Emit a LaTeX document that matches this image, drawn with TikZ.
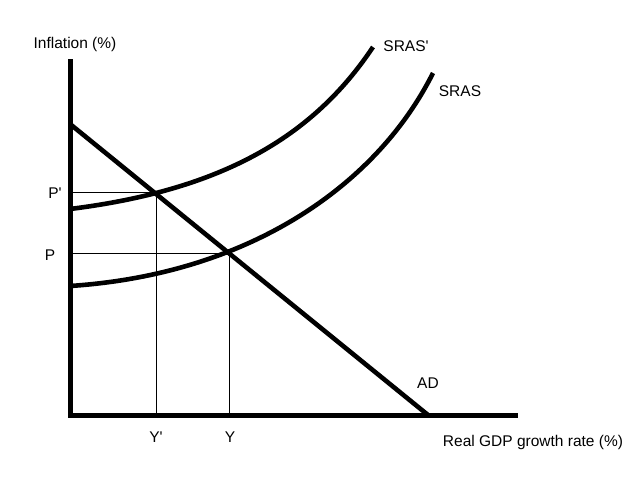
\documentclass[tikz,border=0pt]{standalone}
\usepackage{fontspec}
\setmainfont{Liberation Sans}
\usetikzlibrary{positioning}

\begin{document}
\begin{tikzpicture}[x=1pt, y=-1pt,
		lbl/.style={font=\fontsize{15.5}{18}\selectfont, inner sep=0pt},
		curve/.style={line width=4.6pt},
		guide/.style={line width=1pt}]

		% === figure bounds ===
		\useasboundingbox (0,0) rectangle (640,480);

		% === Equilibrium points ===
		\coordinate (Eprime) at (156,192);
		\coordinate (E)      at (229,253);
		\coordinate (pprime) at (70,192);
		\coordinate (p)      at (70,253);
		\coordinate (yprime) at (156,415);
		\coordinate (y)      at (229,415);

		% === Guide lines ===
		\draw[guide] (pprime) -- (Eprime) -- (yprime);
		\draw[guide] (p) -- (E) -- (y);

		% === Axes ===
		\coordinate (top)    at (70,59);
		\coordinate (origin) at (70,415);
		\coordinate (right)  at (518,415);
		\draw[line width=5pt] (top) -- (origin) -- (right);

		% === Curves ===
		\coordinate (adstart) at (70,124);
		\coordinate (adend)   at (428,415);
		\draw[curve] (adstart) -- (adend);	% AD
		\coordinate (s1start) at (70,209);
		\coordinate (s1end)   at (373,47);
		\draw[curve] (s1start) .. controls (222,190) and (313,137) .. (s1end);	% SRAS'
		\coordinate (s0start) at (70,286);
		\coordinate (s0end)   at (433,73);
		\draw[curve] (s0start) .. controls (252,274) and (378,183) .. (s0end);	% SRAS

		% === Labels ===
		\node[lbl] (ylabel) at (75,44)  {Inflation (\%)};
		\node[lbl] (xlabel) at (533,442) {Real GDP growth rate (\%)};
		\node[lbl] (sras1)  at (406,46) {SRAS\textquotesingle};
		\node[lbl] (sras0)  at (460,91) {SRAS};
		\node[lbl] (ad)     at (428,383) {AD};
		\node[lbl] (plbl1)  at (55,193) {P\textquotesingle};
		\node[lbl] (plbl0)  at (50,255) {P};
		\node[lbl] (ylbl1)  at (156,437) {Y\textquotesingle};
		\node[lbl] (ylbl0)  at (230,437) {Y};
	\end{tikzpicture}
\end{document}
